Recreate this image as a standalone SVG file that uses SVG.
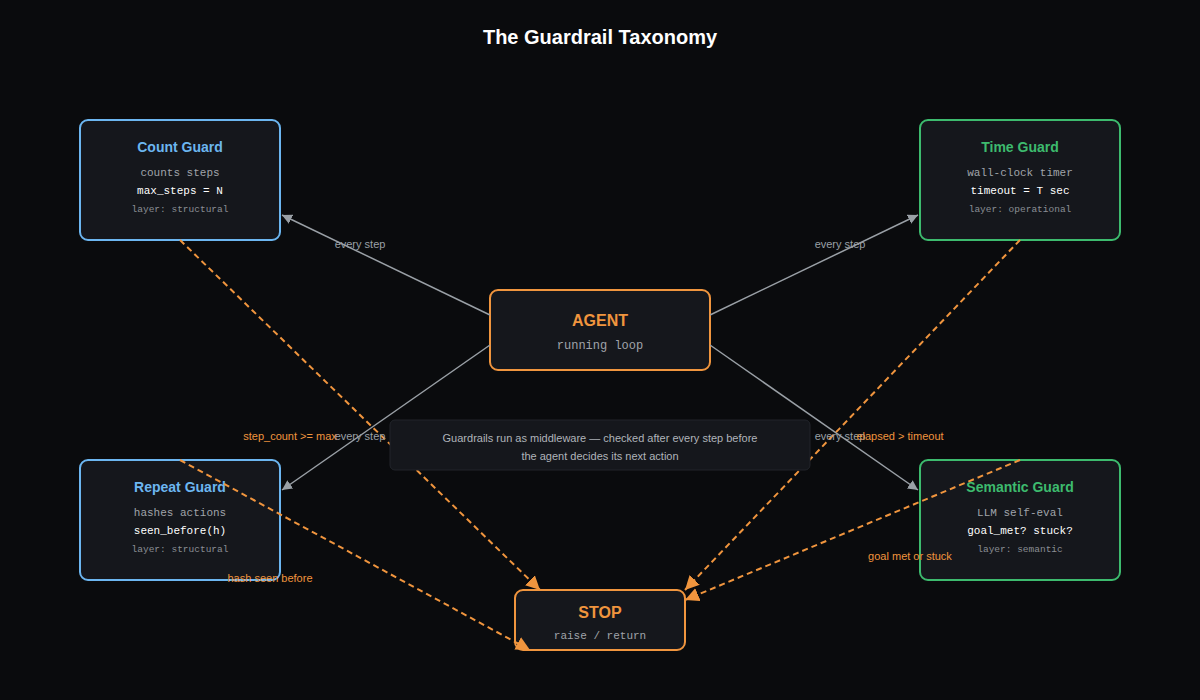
<svg xmlns="http://www.w3.org/2000/svg" width="1200" height="700" viewBox="0 0 1200 700">
<style>
.box{fill:#15171c;stroke-width:2}
.t{font-family:"Liberation Sans",Arial,sans-serif;font-weight:bold;text-anchor:middle}
.m{font-family:"Liberation Mono","DejaVu Sans Mono",monospace;text-anchor:middle}
.l{font-family:"Liberation Sans",Arial,sans-serif;font-size:11px;text-anchor:middle}
.g{stroke:#9aa0a6;stroke-width:1.5;fill:none;marker-end:url(#ag)}
.o{stroke:#f0953e;stroke-width:2;fill:none;stroke-dasharray:6 4;marker-end:url(#ao)}
</style>
<defs>
<marker id="ag" viewBox="0 0 10 10" refX="10" refY="5" markerWidth="10" markerHeight="10" markerUnits="userSpaceOnUse" orient="auto"><path d="M0,0L10,5L0,10z" fill="#9aa0a6"/></marker>
<marker id="ao" viewBox="0 0 10 10" refX="10" refY="5" markerWidth="14" markerHeight="14" markerUnits="userSpaceOnUse" orient="auto"><path d="M0,0L10,5L0,10z" fill="#f0953e"/></marker>
</defs>
<rect width="1200" height="700" fill="#0a0b0d"/>
<text x="600" y="44" class="t" font-size="20" fill="#ffffff">The Guardrail Taxonomy</text>
<g id="count"><rect class="box" x="80" y="120" width="200" height="120" rx="8" stroke="#6cb6f0"/>
<text x="180" y="152" class="t" font-size="14" fill="#6cb6f0">Count Guard</text>
<text x="180" y="176" class="m" font-size="11" fill="#a0a4aa">counts steps</text>
<text x="180" y="194" class="m" font-size="11" fill="#ffffff">max_steps = N</text>
<text x="180" y="212" class="m" font-size="9.5" fill="#8a8e94">layer: structural</text></g>
<g id="time"><rect class="box" x="920" y="120" width="200" height="120" rx="8" stroke="#3dbb6e"/>
<text x="1020" y="152" class="t" font-size="14" fill="#3dbb6e">Time Guard</text>
<text x="1020" y="176" class="m" font-size="11" fill="#a0a4aa">wall-clock timer</text>
<text x="1020" y="194" class="m" font-size="11" fill="#ffffff">timeout = T sec</text>
<text x="1020" y="212" class="m" font-size="9.5" fill="#8a8e94">layer: operational</text></g>
<g id="repeat"><rect class="box" x="80" y="460" width="200" height="120" rx="8" stroke="#6cb6f0"/>
<text x="180" y="492" class="t" font-size="14" fill="#6cb6f0">Repeat Guard</text>
<text x="180" y="516" class="m" font-size="11" fill="#a0a4aa">hashes actions</text>
<text x="180" y="534" class="m" font-size="11" fill="#ffffff">seen_before(h)</text>
<text x="180" y="552" class="m" font-size="9.5" fill="#8a8e94">layer: structural</text></g>
<g id="semantic"><rect class="box" x="920" y="460" width="200" height="120" rx="8" stroke="#3dbb6e"/>
<text x="1020" y="492" class="t" font-size="14" fill="#3dbb6e">Semantic Guard</text>
<text x="1020" y="516" class="m" font-size="11" fill="#a0a4aa">LLM self-eval</text>
<text x="1020" y="534" class="m" font-size="11" fill="#ffffff">goal_met? stuck?</text>
<text x="1020" y="552" class="m" font-size="9.5" fill="#8a8e94">layer: semantic</text></g>
<g id="agent"><rect class="box" x="490" y="290" width="220" height="80" rx="8" stroke="#f0953e"/>
<text x="600" y="326" class="t" font-size="16" fill="#f0953e">AGENT</text>
<text x="600" y="349" class="m" font-size="12" fill="#a0a4aa">running loop</text></g>
<g id="stop"><rect class="box" x="515" y="590" width="170" height="60" rx="8" stroke="#f0953e"/>
<text x="600" y="618" class="t" font-size="16" fill="#f0953e">STOP</text>
<text x="600" y="639" class="m" font-size="11" fill="#a0a4aa">raise / return</text></g>
<g id="connectors">
<line class="g" x1="490" y1="315" x2="282" y2="215"/>
<line class="g" x1="710" y1="315" x2="918" y2="215"/>
<line class="g" x1="490" y1="345" x2="282" y2="490"/>
<line class="g" x1="710" y1="345" x2="918" y2="490"/>
<line class="o" x1="180" y1="240" x2="540" y2="590"/>
<line class="o" x1="1020" y1="240" x2="685" y2="590"/>
<line class="o" x1="180" y1="460" x2="530" y2="650"/>
<line class="o" x1="1020" y1="460" x2="685" y2="600"/>
<text x="360" y="248" class="l" fill="#9aa0a6">every step</text>
<text x="840" y="248" class="l" fill="#9aa0a6">every step</text>
<text x="360" y="440" class="l" fill="#9aa0a6">every step</text>
<text x="840" y="440" class="l" fill="#9aa0a6">every step</text>
<text x="290" y="440" class="l" fill="#f0953e">step_count &gt;= max</text>
<text x="900" y="440" class="l" fill="#f0953e">elapsed &gt; timeout</text>
<text x="270" y="582" class="l" fill="#f0953e">hash seen before</text>
<text x="910" y="560" class="l" fill="#f0953e">goal met or stuck</text>
</g>
<g id="note"><rect x="390" y="420" width="420" height="50" rx="5" fill="#15171c" stroke="#22252b"/>
<text x="600" y="442" class="l" fill="#b0b4ba">Guardrails run as middleware — checked after every step before</text>
<text x="600" y="460" class="l" fill="#b0b4ba">the agent decides its next action</text></g>
</svg>
